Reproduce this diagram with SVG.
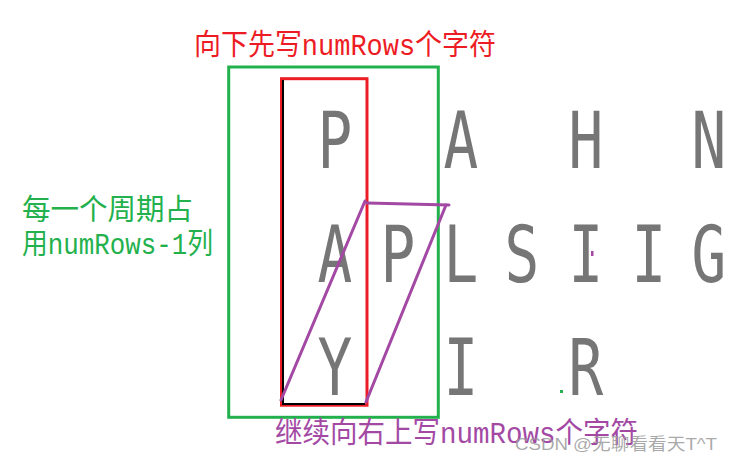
<svg xmlns="http://www.w3.org/2000/svg" width="733" height="462" viewBox="0 0 733 462">
<style>
.cjk{font-family:"Liberation Mono","Noto Sans CJK SC",monospace;font-size:29px}
.lt{font-family:"DejaVu Sans Mono",monospace;font-size:78px;fill:#767676;text-anchor:middle}
.box{fill:none;stroke-width:3}
.pl{stroke:#a349a4;stroke-width:3;fill:none;stroke-linecap:round}
</style>
<rect width="733" height="462" fill="#ffffff"/>
<g id="letters">
<text class="lt" transform="translate(335,168) scale(0.74,1)">P</text>
<text class="lt" transform="translate(461,168) scale(0.74,1)">A</text>
<text class="lt" transform="translate(586,168) scale(0.74,1)">H</text>
<text class="lt" transform="translate(709,168) scale(0.74,1)">N</text>
<text class="lt" transform="translate(335,282) scale(0.74,1)">A</text>
<text class="lt" transform="translate(398,282) scale(0.74,1)">P</text>
<text class="lt" transform="translate(461,282) scale(0.74,1)">L</text>
<text class="lt" transform="translate(522,282) scale(0.74,1)">S</text>
<text class="lt" transform="translate(586,282) scale(0.74,1)">I</text>
<text class="lt" transform="translate(649,282) scale(0.74,1)">I</text>
<text class="lt" transform="translate(709,282) scale(0.74,1)">G</text>
<text class="lt" transform="translate(335,395) scale(0.74,1)">Y</text>
<text class="lt" transform="translate(461,395) scale(0.74,1)">I</text>
<text class="lt" transform="translate(586,395) scale(0.74,1)">R</text>
</g>
<g id="period-box">
<rect class="box" x="228.7" y="67" width="209.6" height="350.3" stroke="#22b14c"/>
</g>
<g id="column-box">
<rect class="box" x="281.5" y="78.7" width="85.5" height="326.5" stroke="#ed1c24"/>
<path d="M283 80 V404 H365" stroke="#000000" stroke-width="2" fill="none"/>
</g>
<g id="connectors">
<path class="pl" d="M281 400 L365 201"/>
<path class="pl" d="M367 203 L449 205"/>
<path class="pl" d="M446 205 L366 402"/>
</g>
<g id="specks">
<rect x="591" y="251" width="2.5" height="5" fill="#a349a4"/>
<rect x="560" y="390" width="3" height="3" fill="#22b14c"/>
</g>
<g id="labels">
<text class="cjk" x="194" y="55" fill="#ed1c24" textLength="302" lengthAdjust="spacingAndGlyphs">向下先写numRows个字符</text>
<text class="cjk" x="22" y="220" fill="#22b14c" textLength="171" lengthAdjust="spacingAndGlyphs">每一个周期占</text>
<text class="cjk" x="22" y="254" fill="#22b14c" textLength="191" lengthAdjust="spacingAndGlyphs">用numRows-1列</text>
<text class="cjk" x="275" y="443" fill="#a349a4" textLength="363" lengthAdjust="spacingAndGlyphs">继续向右上写numRows个字符</text>
<text x="515" y="450" fill="#9a9a9a" fill-opacity="0.85" font-family="Liberation Sans,'Noto Sans CJK SC',sans-serif" font-size="17" textLength="202" lengthAdjust="spacingAndGlyphs">CSDN @无聊看看天T^T</text>
</g>
</svg>
